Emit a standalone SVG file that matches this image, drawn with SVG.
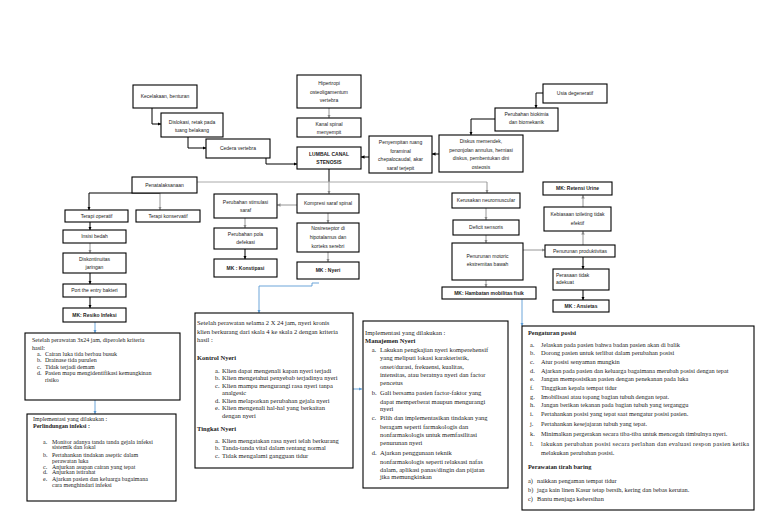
<svg xmlns="http://www.w3.org/2000/svg" width="768" height="523" viewBox="0 0 768 523">
<defs>
<style>
.b{fill:#fff;stroke:#000;stroke-width:1.1}
.t{font-family:"Liberation Sans",Arial,sans-serif;font-size:5px;fill:#222;text-anchor:middle}
.tl{font-family:"Liberation Sans",Arial,sans-serif;font-size:5px;fill:#222}
.tb{font-weight:bold}
.s{font-family:"Liberation Serif","Times New Roman",serif;fill:#222}
.s6{font-size:6px}
.s65{font-size:6.5px}
.s63{font-size:6.3px}
.sb{font-weight:bold}
.c{fill:none;stroke:#000;stroke-width:1;marker-end:url(#ak)}
.g{fill:none;stroke:#8a8a8a;stroke-width:0.9;marker-end:url(#ag)}
.bl{fill:none;stroke:#5b9bd5;stroke-width:0.9;marker-end:url(#ab)}
</style>
<marker id="ak" viewBox="0 0 6 6" refX="6" refY="3" markerWidth="3.5" markerHeight="3.5" markerUnits="userSpaceOnUse" orient="auto"><path d="M0,0L6,3L0,6z" fill="#000"/></marker>
<marker id="ag" viewBox="0 0 6 6" refX="6" refY="3" markerWidth="3.5" markerHeight="3.5" markerUnits="userSpaceOnUse" orient="auto"><path d="M0,0L6,3L0,6z" fill="#8a8a8a"/></marker>
<marker id="ab" viewBox="0 0 6 6" refX="6" refY="3" markerWidth="3.5" markerHeight="3.5" markerUnits="userSpaceOnUse" orient="auto"><path d="M0,0L6,3L0,6z" fill="#5b9bd5"/></marker>
</defs>
<rect width="768" height="523" fill="#fff"/>

<g id="connectors">
<path class="c" d="M152 108V124H161"/>
<path class="c" d="M188 137V148H206"/>
<path class="c" d="M266 158V164H297"/>
<path class="g" d="M329 108V118"/>
<path class="c" d="M543 93H536V108"/>
<path class="c" d="M495 119H471V135"/>
<path class="c" d="M439 154H432"/>
<path class="c" d="M369 157H361"/>
<path fill="none" stroke="#000" stroke-width="1" d="M329 169V182"/>
<path class="g" d="M329 182V194"/>
<path fill="none" stroke="#aaa" stroke-width="1" d="M197 182H487"/>
<path class="g" d="M487 182V193"/>
<path fill="none" stroke="#000" stroke-width="1.1" d="M89 193H160"/>
<path class="c" d="M89 193V210"/>
<path class="g" d="M160 193V210"/>
<path class="c" d="M90 222V230"/>
<path class="g" d="M90 243V253"/>
<path class="c" d="M90 273V284"/>
<path class="c" d="M90 297V308"/>
<path class="bl" d="M95 322V333"/>
<path class="bl" d="M95 400V414"/>
<path class="g" d="M297 205H277"/>
<path class="g" d="M245 218V228"/>
<path class="c" d="M245 249V259"/>
<path class="g" d="M328 213V223"/>
<path class="g" d="M328 252V262"/>
<path class="bl" d="M319 283H312V286H259V313"/>
<path class="bl" d="M353 389H362"/>
<path class="g" d="M486 208V220"/>
<path class="g" d="M486 235V243"/>
<path class="g" d="M486 280V287"/>
<path class="g" d="M523 250H545"/>
<path class="g" d="M583 245V231"/>
<path class="g" d="M583 207V195"/>
<path class="c" d="M583 257V269"/>
<path class="c" d="M583 290V300"/>
<path class="bl" d="M522 299V326"/>
</g>

<g id="n-kecelakaan"><rect class="b" x="133" y="85" width="64" height="23"/><text class="t" x="165" y="98.3">Kecelakaan, benturan</text></g>
<g id="n-dislokasi"><rect class="b" x="161" y="113" width="62" height="24"/><text class="t" x="192" y="123.5">Dislokasi, retak pada</text><text class="t" x="192" y="131.8">tuang belakang</text></g>
<g id="n-cedera"><rect class="b" x="206" y="139" width="64" height="19"/><text class="t" x="238" y="150.3">Cedera vertebra</text></g>
<g id="n-hipertropi"><rect class="b" x="297" y="75" width="64" height="33"/><text class="t" x="329" y="84.8">Hipertropi</text><text class="t" x="329" y="93.6">osteoligamentum</text><text class="t" x="329" y="102.4">vertebra</text></g>
<g id="n-kanal"><rect class="b" x="297" y="118" width="64" height="19"/><text class="t" x="329" y="126.3">Kanal spinal</text><text class="t" x="329" y="134.3">menyempit</text></g>
<g id="n-lumbal"><rect class="b" x="297" y="147" width="64" height="22"/><text class="t tb" x="329" y="155.8">LUMBAL CANAL</text><text class="t tb" x="329" y="164">STENOSIS</text></g>
<g id="n-penyempitan"><rect class="b" x="369" y="136" width="63" height="37"/><text class="t" x="400.5" y="143.8">Penyempitan ruang</text><text class="t" x="400.5" y="152.6">foraminal</text><text class="t" x="400.5" y="161.2">chepalocaudal, akar</text><text class="t" x="400.5" y="169.8">saraf terjepit</text></g>
<g id="n-diskus"><rect class="b" x="439" y="135" width="84" height="37"/><text class="t" x="481" y="142.8">Diskus memendek,</text><text class="t" x="481" y="151.6">penonjolan annulus, herniasi</text><text class="t" x="481" y="160.4">diskus, pembentukan dini</text><text class="t" x="481" y="169.2">osteosis</text></g>
<g id="n-usia"><rect class="b" x="543" y="84" width="64" height="19"/><text class="t" x="575" y="95.3">Usia degeneratif</text></g>
<g id="n-perubahan-bio"><rect class="b" x="495" y="108" width="63" height="23"/><text class="t" x="526.5" y="116">Perubahan biokimia</text><text class="t" x="526.5" y="124.2">dan biomekanik</text></g>
<g id="n-penatalaksanaan"><rect class="b" x="132" y="177" width="65" height="16"/><text class="t" x="164.5" y="186.8">Penatalaksanaan</text></g>
<g id="n-terapi-op"><rect class="b" x="65" y="210" width="63" height="12"/><text class="t" x="96.5" y="217.8">Terapi operatif</text></g>
<g id="n-terapi-kon"><rect class="b" x="136" y="210" width="64" height="12"/><text class="t" x="168" y="217.8">Terapi konservatif</text></g>
<g id="n-insisi"><rect class="b" x="63" y="230" width="63" height="13"/><text class="t" x="94.5" y="238.3">Insisi bedah</text></g>
<g id="n-diskontinuitas"><rect class="b" x="63" y="253" width="63" height="20"/><text class="t" x="94.5" y="261">Diskontinuitas</text><text class="t" x="94.5" y="269">jaringan</text></g>
<g id="n-port"><rect class="b" x="63" y="284" width="63" height="13"/><text class="t" x="94.5" y="292.3">Port the entry bakteri</text></g>
<g id="n-mk-infeksi"><rect class="b" x="63" y="308" width="63" height="14"/><text class="t tb" x="94.5" y="316.8">MK: Resiko Infeksi</text></g>
<g id="n-stimulasi"><rect class="b" x="214" y="194" width="63" height="24"/><text class="t" x="245.5" y="203.8">Perubahan stimulasi</text><text class="t" x="245.5" y="211.8">saraf</text></g>
<g id="n-kompresi"><rect class="b" x="297" y="194" width="62" height="19"/><text class="t" x="328" y="205.3">Kompresi saraf spinal</text></g>
<g id="n-pola"><rect class="b" x="214" y="228" width="63" height="21"/><text class="t" x="245.5" y="235.8">Perubahan pola</text><text class="t" x="245.5" y="243.8">defekasi</text></g>
<g id="n-konstipasi"><rect class="b" x="214" y="259" width="63" height="18"/><text class="t tb" x="245.5" y="269.8">MK : Konstipasi</text></g>
<g id="n-nosireseptor"><rect class="b" x="297" y="223" width="62" height="29"/><text class="t" x="328" y="229.8">Nosireseptor di</text><text class="t" x="328" y="238.8">hipotalamus dan</text><text class="t" x="328" y="247.8">korteks serebri</text></g>
<g id="n-mk-nyeri"><rect class="b" x="297" y="262" width="62" height="17"/><text class="t tb" x="328" y="272.3">MK :  Nyeri</text></g>
<g id="n-retensi"><rect class="b" x="543" y="182" width="69" height="13"/><text class="t tb" x="577.5" y="190.3">MK: Retensi Urine</text></g>
<g id="n-kebiasaan"><rect class="b" x="544" y="207" width="67" height="24"/><text class="t" x="577.5" y="215.8">Kebiasaan toileting tidak</text><text class="t" x="577.5" y="224.8">efektif</text></g>
<g id="n-kerusakan"><rect class="b" x="452" y="193" width="68" height="15"/><text class="t" x="486" y="202.3">Kerusakan neuromuscular</text></g>
<g id="n-deficit"><rect class="b" x="453" y="220" width="66" height="15"/><text class="t" x="486" y="229.3">Deficit sensoris</text></g>
<g id="n-motoric"><rect class="b" x="452" y="243" width="71" height="37"/><text class="t" x="487.5" y="257.8">Penurunan motoric</text><text class="t" x="487.5" y="265.8">ekstremitas bawah</text></g>
<g id="n-hambatan"><rect class="b" x="442" y="287" width="94" height="12"/><text class="t tb" x="489" y="294.8">MK: Hambatan mobilitas fisik</text></g>
<g id="n-produktivitas"><rect class="b" x="545" y="245" width="70" height="12"/><text class="t" x="580" y="252.8">Penurunan produktivitas</text></g>
<g id="n-perasaan"><rect class="b" x="553" y="269" width="56" height="21"/><text class="tl" x="556" y="276.8">Perasaan tidak</text><text class="tl" x="556" y="284">adekuat</text></g>
<g id="n-ansietas"><rect class="b" x="553" y="300" width="56" height="12"/><text class="t tb" x="581" y="307.8">MK : Ansietas</text></g>

<g id="n-kriteria-infeksi">
<rect class="b" x="25" y="333" width="155" height="67"/>
<text class="s s6" x="32" y="342">Setelah perawatan 3x24 jam, diperoleh kriteria</text>
<text class="s s6" x="32" y="349.5">hasil:</text>
<text class="s s6" x="37" y="356.2">a.</text><text class="s s6" x="45" y="356.2">Cairan luka tida berbau busuk</text>
<text class="s s6" x="37" y="362.4">b.</text><text class="s s6" x="45" y="362.4">Drainase tida purulen</text>
<text class="s s6" x="37" y="368.6">c.</text><text class="s s6" x="45" y="368.6">Tidak terjadi demam</text>
<text class="s s6" x="37" y="375">d.</text><text class="s s6" x="45" y="375">Pasien mapu mengidentifikasi kemungkinan</text>
<text class="s s6" x="45" y="382">risiko</text>
</g>
<g id="n-impl-infeksi">
<rect class="b" x="27" y="414" width="149" height="87"/>
<text class="s s6" x="33" y="421">Implementasi yang dilakukan :</text>
<text class="s s6 sb" x="33" y="427.6">Perlindungan infeksi :</text>
<text class="s s6" x="43" y="443.6">a.</text><text class="s s6" x="52" y="443.6">Monitor adanya tanda tanda gejala infeksi</text>
<text class="s s6" x="52" y="449.4">sistemik dan lokal</text>
<text class="s s6" x="43" y="456.8">b.</text><text class="s s6" x="52" y="456.8">Pertahankan tindakan aseptic dalam</text>
<text class="s s6" x="52" y="462.8">perawatan luka</text>
<text class="s s6" x="43" y="468.6">c.</text><text class="s s6" x="52" y="468.6">Anjurkan asupan cairan yang tepat</text>
<text class="s s6" x="43" y="474.3">d.</text><text class="s s6" x="52" y="474.3">Anjurkan istirahat</text>
<text class="s s6" x="43" y="481">e.</text><text class="s s6" x="52" y="481">Ajarkan pasien dan keluarga bagaimana</text>
<text class="s s6" x="52" y="487">cara menghindari infeksi</text>
</g>

<g id="n-kriteria-nyeri">
<rect class="b" x="195" y="313" width="158" height="155"/>
<text class="s s65" x="197" y="325.2">Setelah perawatan selama 2 X 24 jam, nyeri kronis</text>
<text class="s s65" x="197" y="333.5">klien berkurang dari skala 4 ke skala 2 dengan kriteria</text>
<text class="s s65" x="197" y="341.9">hasil :</text>
<text class="s s65 sb" x="197" y="360.2">Kontrol Nyeri</text>
<text class="s s65" x="215" y="372.9">a.</text><text class="s s65" x="222" y="372.9">Klien dapat mengenali kapan nyeri terjadi</text>
<text class="s s65" x="215" y="380.2">b.</text><text class="s s65" x="222" y="380.2">Klien mengetahui penyebab terjadinya nyeri</text>
<text class="s s65" x="215" y="387.5">c.</text><text class="s s65" x="222" y="387.5">Klien mampu mengurangi rasa nyeri tanpa</text>
<text class="s s65" x="222" y="395.2">analgesic</text>
<text class="s s65" x="215" y="402.9">d.</text><text class="s s65" x="222" y="402.9">Klien melaporkan perubahan gejala nyeri</text>
<text class="s s65" x="215" y="410.2">e.</text><text class="s s65" x="222" y="410.2">Klien mengenali hal-hal yang berkaitan</text>
<text class="s s65" x="222" y="417.5">dengan nyeri</text>
<text class="s s65 sb" x="197" y="430.9">Tingkat Nyeri</text>
<text class="s s65" x="215" y="442.9">a.</text><text class="s s65" x="222" y="442.9">Klien mengatakan rasa nyeri telah berkurang</text>
<text class="s s65" x="215" y="450.2">b.</text><text class="s s65" x="222" y="450.2">Tanda-tanda vital dalam rentang normal</text>
<text class="s s65" x="215" y="457.5">c.</text><text class="s s65" x="222" y="457.5">Tidak mengalami gangguan tidur</text>
</g>

<g id="n-impl-nyeri">
<rect class="b" x="363" y="321" width="145" height="167"/>
<text class="s s65" x="365" y="335.2">Implementasi yang dilakukan :</text>
<text class="s s65 sb" x="365" y="342.9">Manajemen Nyeri</text>
<text class="s s65" x="371.7" y="351.9">a.</text><text class="s s65" x="380" y="351.9">Lakukan pengkajian nyeri komperehensif</text>
<text class="s s65" x="380" y="360.2">yang meliputi lokasi karakteristik,</text>
<text class="s s65" x="380" y="368.5">onset/durasi, frekuensi, kualitas,</text>
<text class="s s65" x="380" y="376.9">intensitas, atau beratnya nyeri dan factor</text>
<text class="s s65" x="380" y="385.2">pencetus</text>
<text class="s s65" x="371.7" y="395.2">b.</text><text class="s s65" x="380" y="395.2">Gali bersama pasien factor-faktor yang</text>
<text class="s s65" x="380" y="403.5">dapat memperberat maupun mengurangi</text>
<text class="s s65" x="380" y="411.2">nyeri</text>
<text class="s s65" x="371.7" y="420.2">c.</text><text class="s s65" x="380" y="420.2">Pilih dan implementasikan tindakan yang</text>
<text class="s s65" x="380" y="428.5">beragam seperti farmakologis dan</text>
<text class="s s65" x="380" y="436.9">nonfarmakologis untuk memfasilitasi</text>
<text class="s s65" x="380" y="445.2">penurunan nyeri</text>
<text class="s s65" x="371.7" y="455.2">d.</text><text class="s s65" x="380" y="455.2">Ajarkan penggunaan teknik</text>
<text class="s s65" x="380" y="463.5">nonfarmakologis seperti relaksasi nafas</text>
<text class="s s65" x="380" y="471.9">dalam, aplikasi panas/dingin dan pijatan</text>
<text class="s s65" x="380" y="479.2">jika memungkinkan</text>
</g>

<g id="n-pengaturan">
<rect class="b" x="522" y="326" width="232" height="184"/>
<text class="s s63 sb" x="528" y="335.2">Pengaturan posisi</text>
<text class="s s63" x="530" y="346.9">a.</text><text class="s s63" x="541" y="346.9">Jelaskan pada pasien bahwa badan pasien akan di balik</text>
<text class="s s63" x="530" y="355.2">b.</text><text class="s s63" x="541" y="355.2">Dorong pasien untuk terlibat dalam perubahan posisi</text>
<text class="s s63" x="530" y="363.5">c.</text><text class="s s63" x="541" y="363.5">Atur posisi senyaman mungkin</text>
<text class="s s63" x="530" y="372.5">d.</text><text class="s s63" x="541" y="372.5">Ajarkan pada pasien dan keluarga bagaimana merubah posisi dengan tepat</text>
<text class="s s63" x="530" y="381.2">e.</text><text class="s s63" x="541" y="381.2">Jangan memposisikan pasien dengan penekanan pada luka</text>
<text class="s s63" x="530" y="389.5">f.</text><text class="s s63" x="541" y="389.5">Tinggikan kepala tempat tidur</text>
<text class="s s63" x="530" y="398.5">g.</text><text class="s s63" x="541" y="398.5">Imobilisasi atau topang bagian tubuh dengan tepat.</text>
<text class="s s63" x="530" y="406.9">h.</text><text class="s s63" x="541" y="406.9">Jangan berikan tekanan pada bagian tubuh yang terganggu</text>
<text class="s s63" x="530" y="416">i.</text><text class="s s63" x="541" y="416">Pertahankan posisi yang tepat saat mengatur posisi pasien.</text>
<text class="s s63" x="530" y="425.5">j.</text><text class="s s63" x="541" y="425.5">Pertahankan kesejajaran tubuh yang tepat.</text>
<text class="s s63" x="530" y="436.3">k.</text><text class="s s63" x="541" y="436.3">Minimalkan pergerakan secara tiba-tiba untuk mencegah timbulnya nyeri.</text>
<text class="s s63" x="530" y="445.5">l.</text><text class="s s63" x="541" y="445.5" textLength="208" lengthAdjust="spacing">lakukan perubahan posisi secara perlahan dan evaluasi respon pasien ketika</text>
<text class="s s63" x="541" y="454.9">melakukan perubahan posisi.</text>
<text class="s s63 sb" x="528" y="468.9">Perawatan tirah baring</text>
<text class="s s63" x="528" y="483.2">a)</text><text class="s s63" x="537" y="483.2">naikkan pengaman tempat tidur</text>
<text class="s s63" x="528" y="492.2">b)</text><text class="s s63" x="537" y="492.2">jaga kain linen Kasur tetap bersih, kering dan bebas kerutan.</text>
<text class="s s63" x="528" y="500.5">c)</text><text class="s s63" x="537" y="500.5">Bantu menjaga kebersihan</text>
</g>
</svg>
